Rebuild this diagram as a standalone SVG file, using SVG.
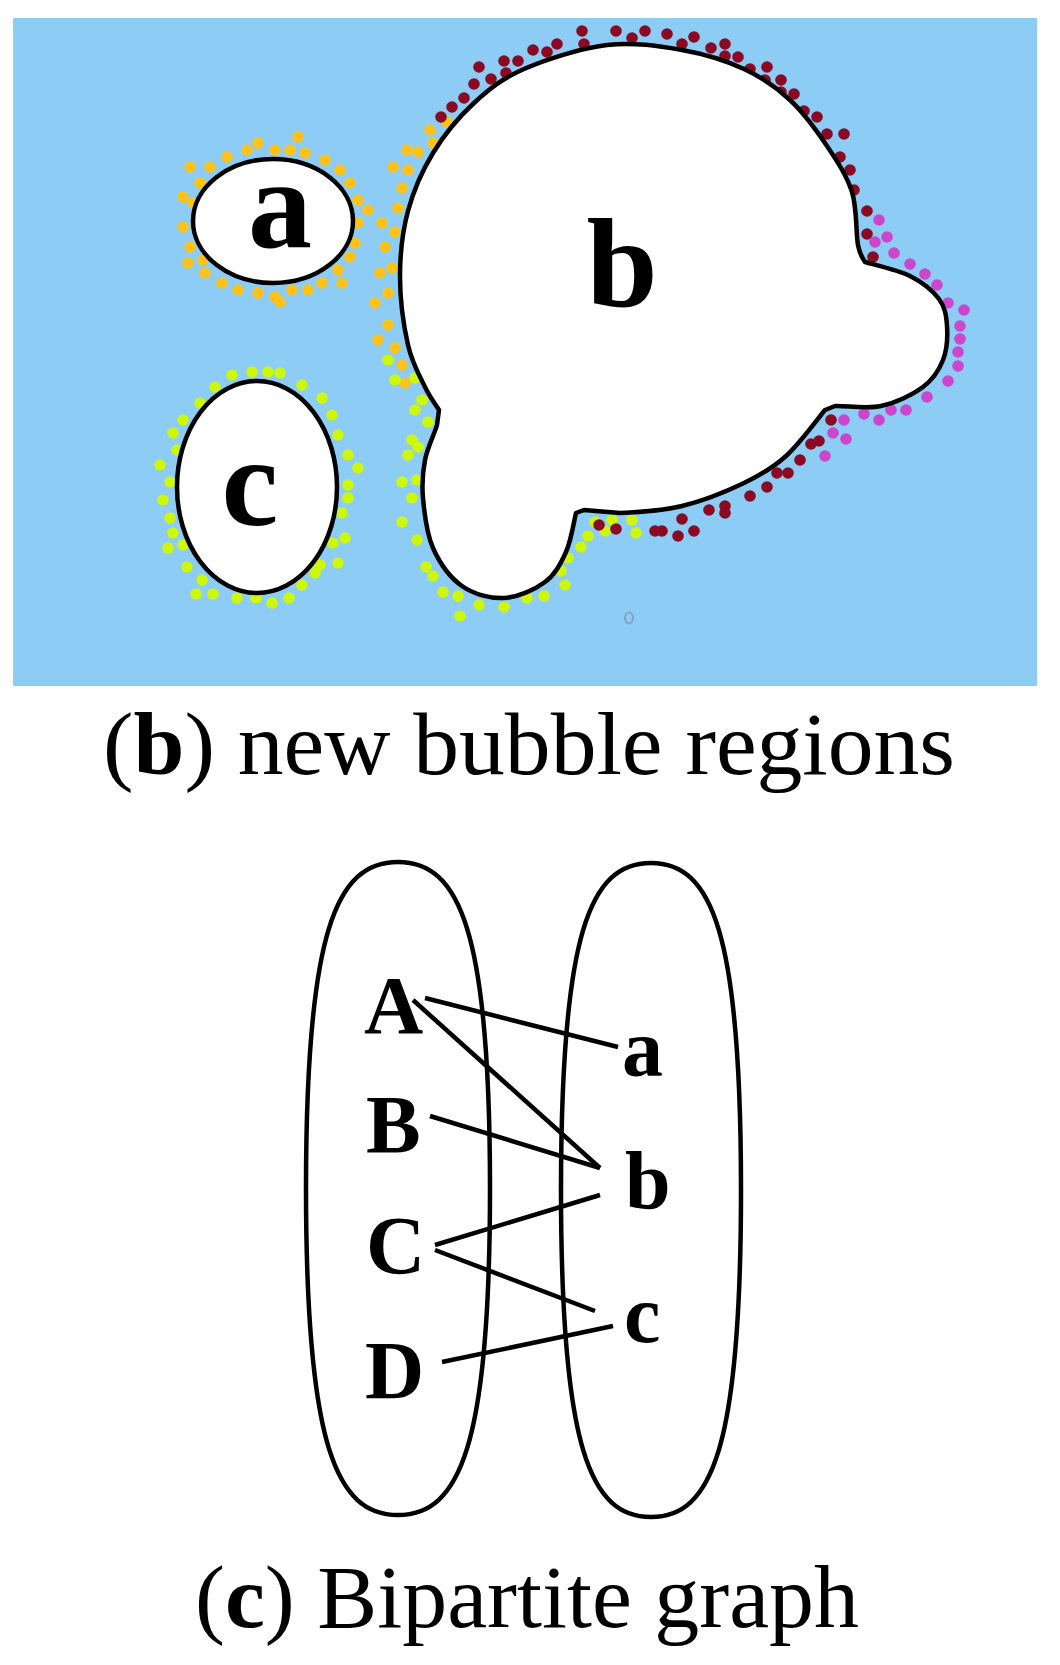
<svg xmlns="http://www.w3.org/2000/svg" width="1060" height="1665" viewBox="0 0 1060 1665">
<style>
.bub{fill:#ffffff;stroke:#000;stroke-width:4.5;stroke-linejoin:round}
.o{fill:#fdc31c}.r{fill:#8a0a24}.m{fill:#cc46cc}.g{fill:#cdf70c}
.o,.r,.m,.g{r:5.8px}
.big{font-family:"Liberation Serif","Times New Roman",serif;font-weight:bold;font-size:128px;fill:#000}
.lbl{font-family:"Liberation Serif","Times New Roman",serif;font-weight:bold;font-size:82px;fill:#000}
.cap{font-family:"Liberation Serif","Times New Roman",serif;font-size:88px;fill:#000}
.set{fill:none;stroke:#000;stroke-width:4.5}
.edge{stroke:#000;stroke-width:4.5;stroke-linecap:butt;fill:none}
</style>
<rect x="0" y="0" width="1060" height="1665" fill="#ffffff"/>
<g id="panel-b">
<rect x="13" y="18" width="1024" height="668" fill="#8dccf5"/>
<g id="dots-orange">
<circle class="o" cx="298" cy="137" r="5.8"/><circle class="o" cx="258" cy="143" r="5.8"/><circle class="o" cx="247" cy="150" r="5.8"/><circle class="o" cx="275" cy="150" r="5.8"/><circle class="o" cx="290" cy="150" r="5.8"/><circle class="o" cx="305" cy="153" r="5.8"/><circle class="o" cx="227" cy="157" r="5.8"/><circle class="o" cx="210" cy="167" r="5.8"/><circle class="o" cx="190" cy="167" r="5.8"/><circle class="o" cx="325" cy="160" r="5.8"/><circle class="o" cx="340" cy="170" r="5.8"/><circle class="o" cx="200" cy="183" r="5.8"/><circle class="o" cx="350" cy="183" r="5.8"/><circle class="o" cx="183" cy="197" r="5.8"/><circle class="o" cx="193" cy="203" r="5.8"/><circle class="o" cx="358" cy="200" r="5.8"/><circle class="o" cx="368" cy="210" r="5.8"/><circle class="o" cx="183" cy="227" r="5.8"/><circle class="o" cx="358" cy="223" r="5.8"/><circle class="o" cx="190" cy="247" r="5.8"/><circle class="o" cx="355" cy="243" r="5.8"/><circle class="o" cx="188" cy="263" r="5.8"/><circle class="o" cx="203" cy="260" r="5.8"/><circle class="o" cx="350" cy="257" r="5.8"/><circle class="o" cx="205" cy="273" r="5.8"/><circle class="o" cx="338" cy="270" r="5.8"/><circle class="o" cx="222" cy="283" r="5.8"/><circle class="o" cx="342" cy="283" r="5.8"/><circle class="o" cx="238" cy="290" r="5.8"/><circle class="o" cx="258" cy="293" r="5.8"/><circle class="o" cx="275" cy="297" r="5.8"/><circle class="o" cx="280" cy="302" r="5.8"/><circle class="o" cx="292" cy="290" r="5.8"/><circle class="o" cx="308" cy="290" r="5.8"/><circle class="o" cx="322" cy="283" r="5.8"/>
<circle class="o" cx="393" cy="167" r="5.8"/><circle class="o" cx="407" cy="150" r="5.8"/><circle class="o" cx="418" cy="152" r="5.8"/><circle class="o" cx="408" cy="170" r="5.8"/><circle class="o" cx="430" cy="130" r="5.8"/><circle class="o" cx="433" cy="143" r="5.8"/><circle class="o" cx="447" cy="122" r="5.8"/><circle class="o" cx="402" cy="188" r="5.8"/><circle class="o" cx="398" cy="208" r="5.8"/><circle class="o" cx="382" cy="223" r="5.8"/><circle class="o" cx="395" cy="232" r="5.8"/><circle class="o" cx="385" cy="247" r="5.8"/><circle class="o" cx="380" cy="273" r="5.8"/><circle class="o" cx="392" cy="268" r="5.8"/><circle class="o" cx="388" cy="293" r="5.8"/><circle class="o" cx="375" cy="303" r="5.8"/><circle class="o" cx="388" cy="325" r="5.8"/><circle class="o" cx="378" cy="340" r="5.8"/><circle class="o" cx="395" cy="348" r="5.8"/><circle class="o" cx="402" cy="365" r="5.8"/><circle class="o" cx="405" cy="383" r="5.8"/>
</g>
<g id="dots-green">
<circle class="g" cx="232" cy="375" r="5.8"/><circle class="g" cx="252" cy="372" r="5.8"/><circle class="g" cx="268" cy="372" r="5.8"/><circle class="g" cx="280" cy="373" r="5.8"/><circle class="g" cx="302" cy="385" r="5.8"/><circle class="g" cx="215" cy="387" r="5.8"/><circle class="g" cx="322" cy="398" r="5.8"/><circle class="g" cx="200" cy="403" r="5.8"/><circle class="g" cx="332" cy="415" r="5.8"/><circle class="g" cx="183" cy="420" r="5.8"/><circle class="g" cx="173" cy="433" r="5.8"/><circle class="g" cx="338" cy="435" r="5.8"/><circle class="g" cx="177" cy="450" r="5.8"/><circle class="g" cx="348" cy="455" r="5.8"/><circle class="g" cx="160" cy="465" r="5.8"/><circle class="g" cx="358" cy="468" r="5.8"/><circle class="g" cx="170" cy="482" r="5.8"/><circle class="g" cx="348" cy="485" r="5.8"/><circle class="g" cx="163" cy="500" r="5.8"/><circle class="g" cx="348" cy="498" r="5.8"/><circle class="g" cx="170" cy="518" r="5.8"/><circle class="g" cx="342" cy="513" r="5.8"/><circle class="g" cx="173" cy="533" r="5.8"/><circle class="g" cx="345" cy="538" r="5.8"/><circle class="g" cx="168" cy="548" r="5.8"/><circle class="g" cx="183" cy="545" r="5.8"/><circle class="g" cx="333" cy="543" r="5.8"/><circle class="g" cx="187" cy="567" r="5.8"/><circle class="g" cx="320" cy="565" r="5.8"/><circle class="g" cx="338" cy="563" r="5.8"/><circle class="g" cx="202" cy="580" r="5.8"/><circle class="g" cx="315" cy="573" r="5.8"/><circle class="g" cx="302" cy="585" r="5.8"/><circle class="g" cx="196" cy="594" r="5.8"/><circle class="g" cx="213" cy="594" r="5.8"/><circle class="g" cx="237" cy="598" r="5.8"/><circle class="g" cx="256" cy="598" r="5.8"/><circle class="g" cx="272" cy="603" r="5.8"/><circle class="g" cx="289" cy="598" r="5.8"/>
<circle class="g" cx="388" cy="360" r="5.8"/><circle class="g" cx="395" cy="380" r="5.8"/><circle class="g" cx="415" cy="378" r="5.8"/><circle class="g" cx="422" cy="400" r="5.8"/><circle class="g" cx="415" cy="410" r="5.8"/><circle class="g" cx="428" cy="422" r="5.8"/><circle class="g" cx="412" cy="440" r="5.8"/><circle class="g" cx="408" cy="455" r="5.8"/><circle class="g" cx="418" cy="447" r="5.8"/><circle class="g" cx="402" cy="482" r="5.8"/><circle class="g" cx="417" cy="480" r="5.8"/><circle class="g" cx="412" cy="498" r="5.8"/><circle class="g" cx="402" cy="522" r="5.8"/><circle class="g" cx="417" cy="540" r="5.8"/><circle class="g" cx="426" cy="567" r="5.8"/><circle class="g" cx="433" cy="576" r="5.8"/><circle class="g" cx="443" cy="592" r="5.8"/><circle class="g" cx="458" cy="596" r="5.8"/><circle class="g" cx="460" cy="616" r="5.8"/><circle class="g" cx="479" cy="605" r="5.8"/><circle class="g" cx="504" cy="607" r="5.8"/><circle class="g" cx="527" cy="598" r="5.8"/><circle class="g" cx="544" cy="596" r="5.8"/><circle class="g" cx="565" cy="585" r="5.8"/><circle class="g" cx="561" cy="571" r="5.8"/><circle class="g" cx="568" cy="558" r="5.8"/><circle class="g" cx="581" cy="547" r="5.8"/><circle class="g" cx="588" cy="536" r="5.8"/><circle class="g" cx="595" cy="522" r="5.8"/><circle class="g" cx="612" cy="520" r="5.8"/><circle class="g" cx="632" cy="520" r="5.8"/><circle class="g" cx="636" cy="533" r="5.8"/><circle class="g" cx="605" cy="531" r="5.8"/>
</g>
<g id="dots-red">
<circle class="r" cx="616" cy="529" r="5.8"/><circle class="r" cx="599" cy="525" r="5.8"/><circle class="r" cx="655" cy="531" r="5.8"/><circle class="r" cx="662" cy="531" r="5.8"/><circle class="r" cx="678" cy="536" r="5.8"/><circle class="r" cx="682" cy="519" r="5.8"/><circle class="r" cx="694" cy="531" r="5.8"/><circle class="r" cx="709" cy="510" r="5.8"/><circle class="r" cx="725" cy="506" r="5.8"/><circle class="r" cx="725" cy="513" r="5.8"/><circle class="r" cx="750" cy="496" r="5.8"/><circle class="r" cx="767" cy="487" r="5.8"/><circle class="r" cx="777" cy="473" r="5.8"/><circle class="r" cx="788" cy="473" r="5.8"/><circle class="r" cx="800" cy="460" r="5.8"/><circle class="r" cx="811" cy="444" r="5.8"/><circle class="r" cx="819" cy="441" r="5.8"/><circle class="r" cx="831" cy="420" r="5.8"/>
<circle class="r" cx="867" cy="211" r="5.8"/><circle class="r" cx="867" cy="234" r="5.8"/><circle class="r" cx="873" cy="257" r="5.8"/><circle class="r" cx="854" cy="190" r="5.8"/><circle class="r" cx="850" cy="170" r="5.8"/><circle class="r" cx="840" cy="157" r="5.8"/><circle class="r" cx="844" cy="134" r="5.8"/><circle class="r" cx="827" cy="134" r="5.8"/><circle class="r" cx="817" cy="117" r="5.8"/><circle class="r" cx="804" cy="111" r="5.8"/><circle class="r" cx="794" cy="94" r="5.8"/><circle class="r" cx="781" cy="92" r="5.8"/><circle class="r" cx="781" cy="80" r="5.8"/><circle class="r" cx="767" cy="67" r="5.8"/><circle class="r" cx="765" cy="80" r="5.8"/><circle class="r" cx="750" cy="69" r="5.8"/><circle class="r" cx="738" cy="57" r="5.8"/><circle class="r" cx="725" cy="44" r="5.8"/><circle class="r" cx="725" cy="56" r="5.8"/><circle class="r" cx="711" cy="48" r="5.8"/><circle class="r" cx="694" cy="37" r="5.8"/><circle class="r" cx="682" cy="44" r="5.8"/><circle class="r" cx="667" cy="34" r="5.8"/><circle class="r" cx="645" cy="31" r="5.8"/><circle class="r" cx="632" cy="38" r="5.8"/><circle class="r" cx="616" cy="31" r="5.8"/><circle class="r" cx="584" cy="44" r="5.8"/><circle class="r" cx="582" cy="31" r="5.8"/><circle class="r" cx="557" cy="44" r="5.8"/><circle class="r" cx="547" cy="52" r="5.8"/><circle class="r" cx="533" cy="50" r="5.8"/><circle class="r" cx="518" cy="61" r="5.8"/><circle class="r" cx="504" cy="61" r="5.8"/><circle class="r" cx="506" cy="73" r="5.8"/><circle class="r" cx="491" cy="79" r="5.8"/><circle class="r" cx="479" cy="67" r="5.8"/><circle class="r" cx="474" cy="84" r="5.8"/><circle class="r" cx="464" cy="98" r="5.8"/><circle class="r" cx="452" cy="107" r="5.8"/><circle class="r" cx="441" cy="117" r="5.8"/>
</g>
<g id="dots-magenta">
<circle class="m" cx="879" cy="220" r="5.8"/><circle class="m" cx="887" cy="237" r="5.8"/><circle class="m" cx="875" cy="242" r="5.8"/><circle class="m" cx="894" cy="253" r="5.8"/><circle class="m" cx="910" cy="264" r="5.8"/><circle class="m" cx="925" cy="274" r="5.8"/><circle class="m" cx="937" cy="285" r="5.8"/><circle class="m" cx="948" cy="303" r="5.8"/><circle class="m" cx="964" cy="310" r="5.8"/><circle class="m" cx="960" cy="326" r="5.8"/><circle class="m" cx="960" cy="339" r="5.8"/><circle class="m" cx="958" cy="352" r="5.8"/><circle class="m" cx="958" cy="366" r="5.8"/><circle class="m" cx="948" cy="381" r="5.8"/><circle class="m" cx="927" cy="397" r="5.8"/><circle class="m" cx="906" cy="410" r="5.8"/><circle class="m" cx="891" cy="410" r="5.8"/><circle class="m" cx="879" cy="420" r="5.8"/><circle class="m" cx="864" cy="414" r="5.8"/><circle class="m" cx="844" cy="420" r="5.8"/><circle class="m" cx="833" cy="433" r="5.8"/><circle class="m" cx="846" cy="439" r="5.8"/><circle class="m" cx="825" cy="456" r="5.8"/>
</g>
<g id="bubble-a">
<ellipse class="bub" cx="273" cy="221" rx="80" ry="62"/>
<text class="big" x="280" y="247" text-anchor="middle">a</text>
</g>
<g id="bubble-c">
<ellipse class="bub" cx="257" cy="487" rx="80" ry="106"/>
<text class="big" x="250" y="525" text-anchor="middle">c</text>
</g>
<g id="bubble-b">
<path class="bub" d="M439,410 C436.7,406.2 430.2,397.8 425,387 C419.8,376.2 412.2,363.5 408,345 C403.8,326.5 400,298.3 400,276 C400,253.7 402.5,231.5 408,211 C413.5,190.5 422,171 433,153 C444,135 458.8,117 474,103 C489.2,89 501.8,78.7 524,69 C546.2,59.3 580.7,48.2 607,45 C633.3,41.8 659.2,46 682,50 C704.8,54 726,60.7 744,69 C762,77.3 776.2,87.2 790,100 C803.8,112.8 816.7,130.7 827,146 C837.3,161.3 846.8,175.5 852,192 C857.2,208.5 855.8,233.3 858,245 C860.2,256.7 863.8,259.2 865,262 C872.5,264.3 897.7,269.8 910,276 C922.3,282.2 932.8,290.7 939,299 C945.2,307.3 946.3,315.8 947,326 C947.7,336.2 947,349.8 943,360 C939,370.2 933.3,379.3 923,387 C912.7,394.7 895.7,402.8 881,406 C866.3,409.2 844.3,405.3 835,406 L825,410 C818.5,417.7 799.5,443.8 786,456 C772.5,468.2 761.3,474.7 744,483 C726.7,491.3 702.7,501 682,506 C661.3,511 636.3,512.3 620,513 L584,510 L576,513 C574.3,519.5 571.2,540.5 566,552 C560.8,563.5 555.3,574.3 545,582 C534.7,589.7 517.8,597.3 504,598 C490.2,598.7 473.8,594.3 462,586 C450.2,577.7 439.5,562.7 433,548 C426.5,533.3 424.3,512.7 423,498 C421.7,483.3 422.7,472.2 425,460 C427.3,447.8 434.7,433.3 437,425 Z"/>
<text class="big" x="622" y="306" text-anchor="middle">b</text>
</g>
<ellipse cx="629" cy="618" rx="4" ry="5.5" fill="none" stroke="#7fa3c9" stroke-width="2"/>
</g>
<text class="cap" x="103" y="774" textLength="852" lengthAdjust="spacingAndGlyphs">(<tspan font-weight="bold">b</tspan>) new bubble regions</text>
<g id="panel-c">
<g id="set-left">
<path class="set" d="M398,862 C460,862 490,932 490,1188.5 C490,1445 460,1515 398,1515 C336,1515 306,1445 306,1188.5 C306,932 336,862 398,862 Z"/>
</g>
<g id="set-right">
<path class="set" d="M651,863 C712,863 741,933 741,1190 C741,1447 712,1517 651,1517 C590,1517 561,1447 561,1190 C561,933 590,863 651,863 Z"/>
</g>
<g id="connectors">
<line class="edge" x1="425" y1="998" x2="618" y2="1047"/>
<line class="edge" x1="413" y1="1000" x2="600" y2="1168"/>
<line class="edge" x1="430" y1="1116" x2="600" y2="1168"/>
<line class="edge" x1="600" y1="1195" x2="435" y2="1245"/>
<line class="edge" x1="435" y1="1250" x2="595" y2="1311"/>
<line class="edge" x1="442" y1="1362" x2="613" y2="1326"/>
</g>
<g id="node-A"><text class="lbl" x="364" y="1033">A</text></g>
<g id="node-B"><text class="lbl" x="366" y="1152">B</text></g>
<g id="node-C"><text class="lbl" x="366" y="1273">C</text></g>
<g id="node-D"><text class="lbl" x="365" y="1398">D</text></g>
<g id="node-a"><text class="lbl" x="622" y="1076">a</text></g>
<g id="node-b"><text class="lbl" x="625" y="1208">b</text></g>
<g id="node-c"><text class="lbl" x="624" y="1342">c</text></g>
</g>
<text class="cap" x="195" y="1627" textLength="664" lengthAdjust="spacingAndGlyphs">(<tspan font-weight="bold">c</tspan>) Bipartite graph</text>
</svg>
